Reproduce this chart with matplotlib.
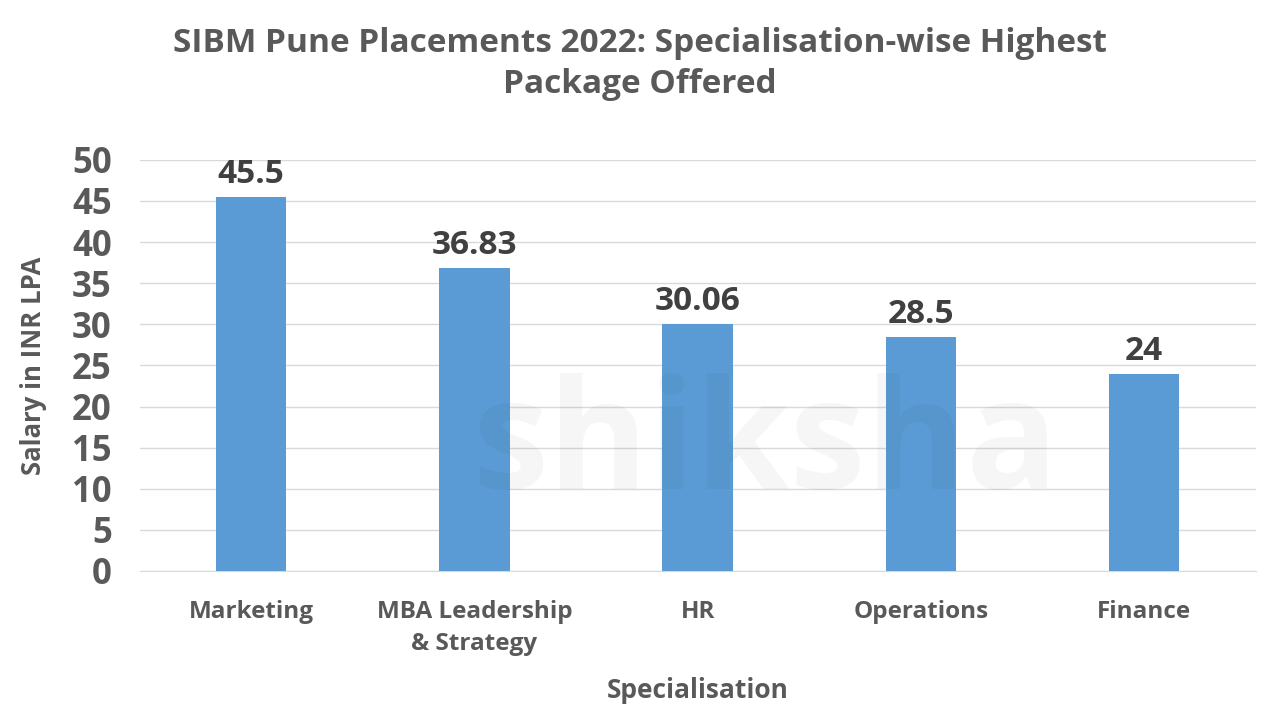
import matplotlib
matplotlib.use("Agg")
import matplotlib.pyplot as plt

categories = ["Marketing", "MBA Leadership\n& Strategy", "HR", "Operations", "Finance"]
values = [45.5, 36.83, 30.06, 28.5, 24]
labels = ["45.5", "36.83", "30.06", "28.5", "24"]
yticks = [0, 5, 10, 15, 20, 25, 30, 35, 40, 45, 50]

plt.rcParams['font.family'] = ['Open Sans', 'DejaVu Sans']
fig = plt.figure(figsize=(12.8, 7.2), dpi=100)
ax = fig.add_axes([0.109, 0.207, 0.872, 0.571])

x = range(len(categories))
ax.bar(x, values, width=0.315, color="#5B9BD5", zorder=3)
for xi, v, l in zip(x, values, labels):
    ax.text(xi, v + 0.7, l, ha="center", va="bottom", fontsize=24, fontweight="bold", color="#404040")

# faint watermark
fig.text(0.598, 0.27, "shiksha", ha="center", va="bottom", fontsize=110, fontweight="bold",
         color="#000000", alpha=0.035, zorder=5)

ax.set_xlim(-0.5, len(categories) - 0.5)
ax.set_ylim(0, 50)
ax.set_yticks(yticks)
ax.set_yticklabels([str(t) for t in yticks], fontsize=25, fontweight="bold", color="#595959")
ax.set_xticks(list(x))
ax.set_xticklabels(categories, fontsize=17.5, fontweight="bold", color="#595959", linespacing=1.45)
ax.tick_params(axis="x", length=0, pad=21)
ax.tick_params(axis="y", length=0, pad=20)
ax.grid(axis="y", color="#D9D9D9", linewidth=1, zorder=0)
for s in ["top", "right", "left"]:
    ax.spines[s].set_visible(False)
ax.spines["bottom"].set_color("#D9D9D9")

ax.set_ylabel("Salary in INR LPA", fontsize=18.5, fontweight="bold", color="#595959", labelpad=18)
ax.set_xlabel("Specialisation", fontsize=19, fontweight="bold", color="#595959", labelpad=15)

fig.text(0.5, 0.962, "SIBM Pune Placements 2022: Specialisation-wise Highest\nPackage Offered",
         ha="center", va="top", fontsize=24, fontweight="bold", color="#595959", linespacing=1.3)

fig.savefig("out.png", dpi=100, facecolor="white")
